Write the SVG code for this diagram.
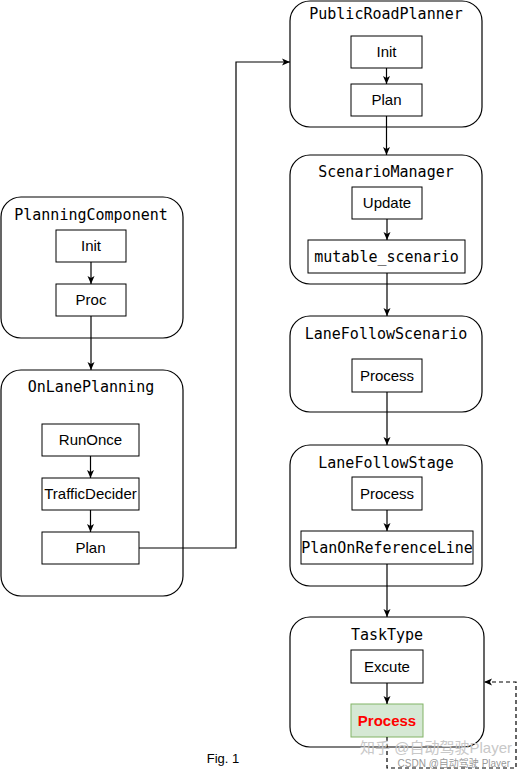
<svg xmlns="http://www.w3.org/2000/svg" width="526" height="777" viewBox="0 0 526 777">
<style>
.cont{fill:#fff;stroke:#000;stroke-width:1.2}
.box{fill:#fff;stroke:#000;stroke-width:1}
.title{font-family:"DejaVu Sans Mono",monospace;font-size:15px;fill:#000;text-anchor:middle}
.mono{font-family:"DejaVu Sans Mono",monospace;font-size:15px;fill:#000;text-anchor:middle}
.lbl{font-family:"Liberation Sans",Arial,sans-serif;font-size:15px;fill:#000;text-anchor:middle}
.edge{fill:none;stroke:#000;stroke-width:1.2}
.dash{fill:none;stroke:#000;stroke-width:1.2;stroke-dasharray:4 3}
.wm{font-family:"Liberation Sans","Noto Sans CJK SC",sans-serif;fill:#c8c8c8;text-anchor:end}
</style>
<defs>
<marker id="ah" markerWidth="10" markerHeight="10" refX="9" refY="5" orient="auto" markerUnits="userSpaceOnUse">
<path d="M1,1.5 L9,5 L1,8.5 L3,5 Z" fill="#000"/>
</marker>
</defs>
<rect width="526" height="777" fill="#fff"/>
<g id="PlanningComponent">
<rect class="cont" x="1" y="197" width="182" height="141" rx="20"/>
<text class="title" x="91" y="220">PlanningComponent</text>
<rect class="box" x="56" y="230" width="70" height="32"/>
<text class="lbl" x="91" y="251">Init</text>
<rect class="box" x="56" y="284" width="70" height="32"/>
<text class="lbl" x="91" y="305">Proc</text>
</g>
<g id="OnLanePlanning">
<rect class="cont" x="1" y="370" width="182" height="226" rx="20"/>
<text class="title" x="91" y="392">OnLanePlanning</text>
<rect class="box" x="42" y="424" width="97" height="32"/>
<text class="lbl" x="90.5" y="445">RunOnce</text>
<rect class="box" x="42" y="478" width="97" height="32"/>
<text class="lbl" x="90.5" y="499">TrafficDecider</text>
<rect class="box" x="42" y="532" width="97" height="32"/>
<text class="lbl" x="90.5" y="553">Plan</text>
</g>
<g id="PublicRoadPlanner">
<rect class="cont" x="290" y="1" width="192" height="126" rx="20"/>
<text class="title" x="386" y="19">PublicRoadPlanner</text>
<rect class="box" x="351" y="36" width="71" height="32"/>
<text class="lbl" x="386.5" y="57">Init</text>
<rect class="box" x="351" y="84" width="71" height="32"/>
<text class="lbl" x="386.5" y="105">Plan</text>
</g>
<g id="ScenarioManager">
<rect class="cont" x="290" y="155" width="192" height="129" rx="20"/>
<text class="title" x="386" y="177">ScenarioManager</text>
<rect class="box" x="352" y="187" width="70" height="32"/>
<text class="lbl" x="387" y="208">Update</text>
<rect class="box" x="308" y="240" width="157" height="33"/>
<text class="mono" x="386.5" y="262">mutable_scenario</text>
</g>
<g id="LaneFollowScenario">
<rect class="cont" x="290" y="316" width="192" height="96" rx="20"/>
<text class="title" x="386" y="339">LaneFollowScenario</text>
<rect class="box" x="352" y="359" width="70" height="33"/>
<text class="lbl" x="387" y="381">Process</text>
</g>
<g id="LaneFollowStage">
<rect class="cont" x="290" y="445" width="192" height="141" rx="20"/>
<text class="title" x="386" y="468">LaneFollowStage</text>
<rect class="box" x="352" y="477" width="70" height="33"/>
<text class="lbl" x="387" y="499">Process</text>
<rect class="box" x="301" y="531" width="172" height="33"/>
<text class="mono" x="387" y="553">PlanOnReferenceLine</text>
</g>
<g id="TaskType">
<rect class="cont" x="290" y="617" width="194" height="130" rx="20"/>
<text class="title" x="387" y="640">TaskType</text>
<rect class="box" x="351" y="650" width="72" height="33"/>
<text class="lbl" x="387" y="672">Excute</text>
<rect x="351" y="704" width="72" height="33" fill="#d5e8d4" stroke="#82b366" stroke-width="1"/>
<text class="lbl" x="387" y="726" style="fill:#ff0000;font-weight:bold">Process</text>
</g>
<g id="connectors">
<line class="edge" x1="91" y1="262" x2="91" y2="284" marker-end="url(#ah)"/>
<line class="edge" x1="91" y1="316" x2="91" y2="370" marker-end="url(#ah)"/>
<line class="edge" x1="90.5" y1="456" x2="90.5" y2="478" marker-end="url(#ah)"/>
<line class="edge" x1="90.5" y1="510" x2="90.5" y2="532" marker-end="url(#ah)"/>
<polyline class="edge" points="139,548 236,548 236,62 290,62" marker-end="url(#ah)"/>
<line class="edge" x1="386.5" y1="68" x2="386.5" y2="84" marker-end="url(#ah)"/>
<line class="edge" x1="386.5" y1="116" x2="386.5" y2="155" marker-end="url(#ah)"/>
<line class="edge" x1="387" y1="219" x2="387" y2="240" marker-end="url(#ah)"/>
<line class="edge" x1="387" y1="273" x2="387" y2="316" marker-end="url(#ah)"/>
<line class="edge" x1="387" y1="392" x2="387" y2="445" marker-end="url(#ah)"/>
<line class="edge" x1="387" y1="510" x2="387" y2="531" marker-end="url(#ah)"/>
<line class="edge" x1="387" y1="564" x2="387" y2="617" marker-end="url(#ah)"/>
<line class="edge" x1="387" y1="683" x2="387" y2="704" marker-end="url(#ah)"/>
<polyline class="dash" points="387,737 387,768 516,768 516,682 484,682" marker-end="url(#ah)"/>
</g>
<text x="223" y="763" style="font-family:'Liberation Sans',Arial,sans-serif;font-size:13px;fill:#000;text-anchor:middle">Fig. 1</text>
<text class="wm" x="512" y="753" font-size="15">知乎 @自动驾驶Player</text>
<text class="wm" x="510" y="767" font-size="10" style="fill:#9a9a9a">CSDN @自动驾驶 Player</text>
</svg>
